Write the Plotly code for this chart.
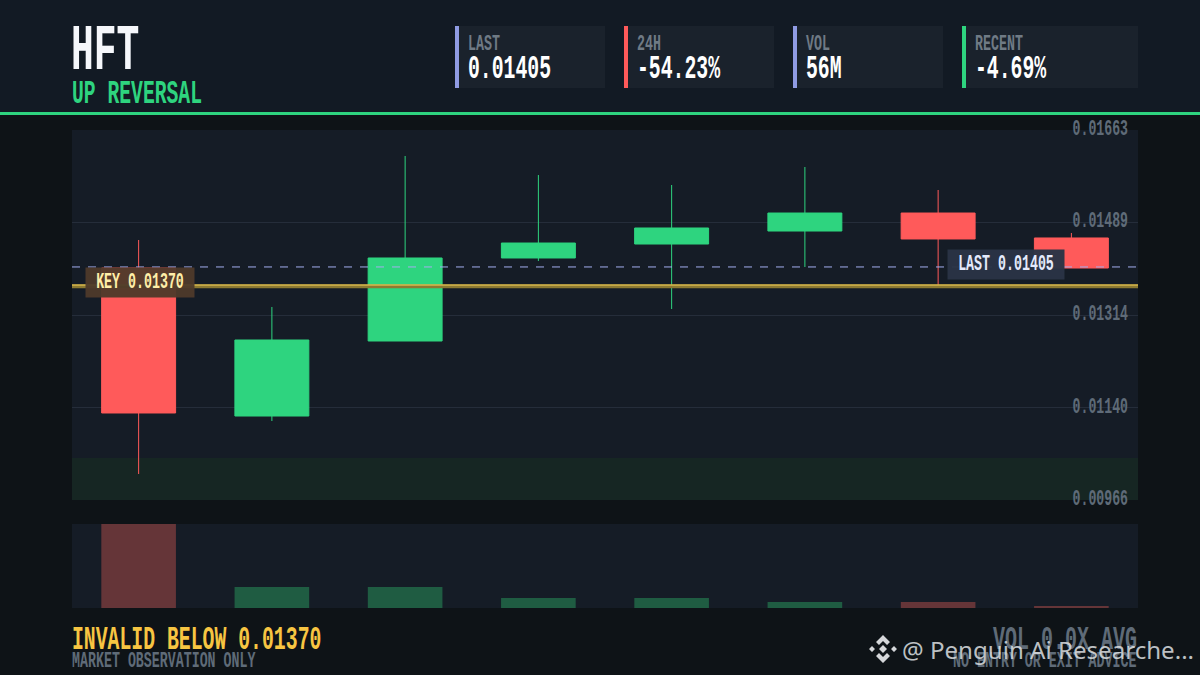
import plotly.graph_objects as go
from plotly.subplots import make_subplots

# candles
candles = ["c1", "c2", "c3", "c4", "c5", "c6", "c7", "c8"]
opens = [0.01403, 0.011242, 0.012655, 0.014219, 0.014482, 0.014727, 0.015066, 0.014596]
highs = [0.014558, 0.013296, 0.01614, 0.015782, 0.015594, 0.015933, 0.0155, 0.01469]
lows = [0.01015, 0.011148, 0.012655, 0.014162, 0.013258, 0.014049, 0.013691, 0.01403]
closes = [0.011299, 0.012674, 0.014219, 0.014501, 0.014784, 0.015066, 0.014577, 0.01403]
volumes = [56, 14, 14, 6.7, 6.7, 4, 4, 0.7]

price_ticks = [0.00966, 0.0114, 0.01314, 0.01489, 0.01663]
price_tick_text = ["0.00966", "0.01140", "0.01314", "0.01489", "0.01663"]
key_level = 0.0137
last_price = 0.01405
zone_low = 0.00966
zone_high = 0.01045

card_labels = ["LAST", "24H", "VOL", "RECENT"]
card_values = ["0.01405", "-54.23%", "56M", "-4.69%"]

GREEN = "#2ed47f"
RED = "#ff5a5a"
LAVENDER = "#8f9be3"
GOLD = "#f7c542"
GREY = "#5f6b78"
PIXEL = "Liberation Mono"

W, H = 1200, 675

# no pixel font here: take the mono font and stretch it tall, and drop the page margin
POST_SCRIPT = """
document.body.style.margin = '0';
document.body.style.overflow = 'hidden';
document.querySelectorAll('.annotation-text, .ytick text').forEach(function (t) {
    if (t.style.fontFamily.indexOf('Noto') >= 0) return;
    var b = t.getBBox(), cy = b.y + b.height / 2;
    var old = t.getAttribute('transform') || '';
    t.setAttribute('transform', old + ' translate(0 ' + cy + ') scale(1 1.7) translate(0 ' + (-cy) + ')');
});
"""


def px(x):
    return x / W


def py(y):
    return 1 - y / H


def paper_rect(x0, y0, x1, y1, color):
    return dict(type="rect", xref="paper", yref="paper", x0=px(x0), x1=px(x1),
                y0=py(y0), y1=py(y1), fillcolor=color, line_width=0, layer="below")


def label(x, y, text, size, color, anchor="left", **kw):
    return dict(text=text, xref="paper", yref="paper", x=px(x), y=py(y), xanchor=anchor,
                yanchor="middle", showarrow=False,
                font=dict(family=PIXEL, size=size, color=color, weight="bold"), **kw)


fig = make_subplots(rows=2, cols=1)
fig.add_trace(go.Candlestick(x=candles, open=opens, high=highs, low=lows, close=closes,
                             increasing=dict(line=dict(color=GREEN, width=1), fillcolor=GREEN),
                             decreasing=dict(line=dict(color=RED, width=1), fillcolor=RED),
                             whiskerwidth=0, showlegend=False), 1, 1)
vol_colors = ["#653538" if c < o else "#1f5c42" for o, c in zip(opens, closes)]
fig.add_trace(go.Bar(x=candles, y=volumes, marker_color=vol_colors, marker_line_width=0,
                     width=0.56, showlegend=False), 2, 1)

shapes = [
    paper_rect(0, 0, 1200, 112, "#121a24"),
    paper_rect(0, 112, 1200, 115, GREEN),
    paper_rect(72, 130, 1138, 500, "#151c26"),
    paper_rect(72, 524, 1138, 608, "#151c26"),
]
annotations = [
    label(69, 51.5, "HFT", 38, "#f5f7fb"),
    label(70, 95, "UP REVERSAL", 19.7, GREEN),
    label(70, 640.5, "INVALID BELOW 0.01370", 19.8, GOLD),
    label(70, 661.5, "MARKET OBSERVATION ONLY", 13.3, GREY),
    label(1139, 639, "VOL 0.0X AVG", 20, GREY, anchor="right"),
    label(1139, 661.5, "NO ENTRY OR EXIT ADVICE", 13.3, GREY, anchor="right"),
]

# stat cards along the top, the last one runs to the plot edge
card_accents = [LAVENDER, RED, LAVENDER, GREEN]
card_widths = [150, 150, 150, 176]
for i in range(len(card_labels)):
    left = 455 + i * 169
    shapes.append(paper_rect(left, 26, left + card_widths[i], 88, "#1a222c"))
    shapes.append(paper_rect(left, 26, left + 4, 88, card_accents[i]))
    annotations.append(label(left + 11, 44, card_labels[i], 13.3, "#6f7a85"))
    annotations.append(label(left + 11, 70, card_values[i], 19.8, "#ffffff"))

# invalidation zone and levels
shapes.append(dict(type="rect", xref="x domain", yref="y", x0=0, x1=1, y0=zone_low, y1=zone_high,
                   fillcolor="#162623", line_width=0, layer="below"))
shapes.append(dict(type="line", xref="x domain", yref="y", x0=0, x1=1, y0=last_price, y1=last_price,
                   line=dict(color="#a3aeef", width=1, dash="8px,8px"), layer="above"))
shapes.append(dict(type="line", xref="x domain", yref="y", x0=0, x1=1, y0=key_level - 0.00002, y1=key_level - 0.00002,
                   line=dict(color="#8d7a32", width=3.5), layer="above"))
shapes.append(dict(type="line", xref="x domain", yref="y", x0=0, x1=1, y0=key_level + 0.00001, y1=key_level + 0.00001,
                   line=dict(color="#d9b84b", width=1.5), layer="above"))

# level tags
annotations.append(dict(text="KEY 0.01370", xref="paper", yref="paper", x=px(140), y=py(282), xanchor="center",
                        yanchor="middle", showarrow=False, width=108, height=29, borderpad=0,
                        bgcolor="rgba(78,58,42,0.95)",
                        font=dict(family=PIXEL, size=13.3, color="#ffeea8", weight="bold")))
annotations.append(dict(text="LAST 0.01405", xref="paper", yref="paper", x=px(1006), y=py(264), xanchor="center",
                        yanchor="middle", showarrow=False, width=116, height=29, borderpad=0,
                        bgcolor="rgba(42,52,69,0.97)",
                        font=dict(family=PIXEL, size=13.3, color="#e4eafc", weight="bold")))

# watermark
logo = ("M0,14 L7,7 L4,4 L0,8 L-4,4 L-7,7 Z "
        "M0,-14 L7,-7 L4,-4 L0,-8 L-4,-4 L-7,-7 Z "
        "M0,4 L4,0 L0,-4 L-4,0 Z "
        "M-14,0 L-11,3 L-8,0 L-11,-3 Z "
        "M14,0 L11,3 L8,0 L11,-3 Z")
shapes.append(dict(type="path", path=logo, xref="paper", yref="paper", xsizemode="pixel", ysizemode="pixel",
                   xanchor=px(883), yanchor=py(649), fillcolor="#d5d7da", line_width=0, layer="above"))
annotations.append(dict(text="@ Penguin Ai Researche...", xref="paper", yref="paper", x=px(900), y=py(649),
                        xanchor="left", yanchor="middle", showarrow=False,
                        font=dict(family="Noto Sans", size=24.1, color="rgba(222,225,228,0.85)")))

fig.update_layout(
    width=W, height=H, autosize=False, margin=dict(l=0, r=0, t=0, b=0, autoexpand=False),
    paper_bgcolor="#0e1317", plot_bgcolor="rgba(0,0,0,0)", boxgap=0.445, boxgroupgap=0,
    showlegend=False, shapes=shapes, annotations=annotations,
    xaxis=dict(domain=[px(72), px(1138)], range=[-0.5, 7.5], type="category", visible=False,
               rangeslider=dict(visible=False), fixedrange=True),
    xaxis2=dict(domain=[px(72), px(1138)], range=[-0.5, 7.5], type="category", visible=False, fixedrange=True),
    yaxis=dict(domain=[py(500), py(130)], range=[0.00966, 0.01663], side="right", tickmode="array",
               tickvals=price_ticks, ticktext=price_tick_text, ticklabelposition="inside",
               ticklabeloverflow="allow", ticklabelstandoff=7, ticklabelshift=-2,
               tickfont=dict(family=PIXEL, size=13.2, color=GREY, weight="bold"), ticks="",
               showgrid=True, gridcolor="#252d3a", gridwidth=1, zeroline=False, showline=False),
    yaxis2=dict(domain=[py(608), py(524)], range=[0, 56], visible=False, fixedrange=True),
)

fig.write_html("out.html", post_script=POST_SCRIPT, config={"displayModeBar": False})
